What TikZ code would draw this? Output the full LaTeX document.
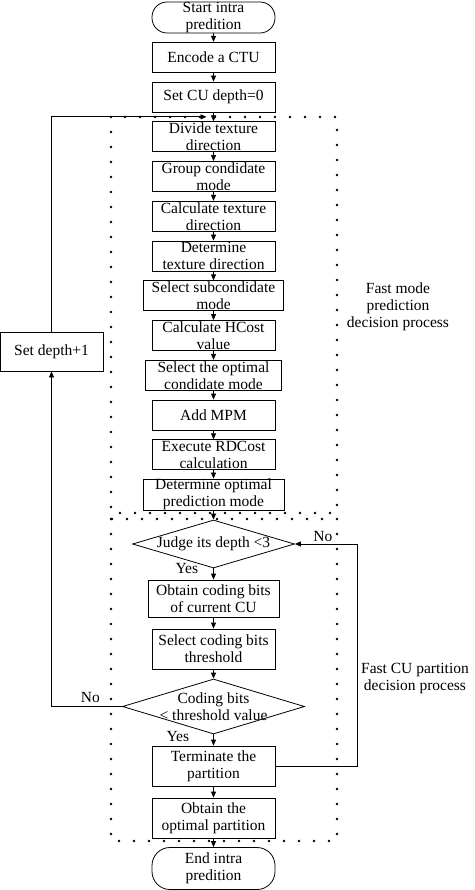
\documentclass[tikz,border=0pt]{standalone}
\usepackage{fontspec}
\setmainfont{Liberation Serif}
\usetikzlibrary{shapes.geometric, arrows.meta, calc}
\tikzstyle{beginend} = [rectangle, rounded corners=15pt, minimum width=123pt, minimum height=31pt, align=center, inner sep=0pt, draw=black]
\tikzstyle{process} = [rectangle, minimum width=123pt, minimum height=30pt, align=center, inner sep=0pt, draw=black]
\tikzstyle{decision} = [diamond, inner sep=0pt, draw=black]
\tikzstyle{arrow} = [->, >={Triangle[length=6pt,width=5pt]}]
\tikzstyle{dotbox} = [line width=2.7pt, line cap=round, dash pattern=on 0pt off 15pt]
\tikzstyle{remark} = [align=center]

\begin{document}
\begin{tikzpicture}[x=1pt, y=-1pt, node distance=39.75pt, line width=0.8pt, font=\fontsize{15.5}{17}\selectfont]
	\useasboundingbox (0,0) rectangle (474,890);
	% fast mode prediction part
	\node (start) [beginend] at (213.5,17.5) {Start intra\\predition};
	\node (encode) [process, below of=start] {Encode a CTU};
	\node (setcu) [process, below of=encode] {Set CU depth=0};
	\node (divide) [process, below of=setcu] {Divide texture\\direction};
	\node (group) [process, below of=divide] {Group condidate\\mode};
	\node (calctex) [process, below of=group] {Calculate texture\\direction};
	\node (dettex) [process, below of=calctex] {Determine\\texture direction};
	\node (selsub) [process, below of=dettex, minimum width=140pt] {Select subcondidate\\mode};
	\node (hcost) [process, below of=selsub] {Calculate HCost\\value};
	\node (selopt) [process, below of=hcost, minimum width=136pt] {Select the optimal\\condidate mode};
	\node (mpm) [process, below of=selopt] {Add MPM};
	\node (rdcost) [process, below of=mpm] {Execute RDCost\\calculation};
	\node (detopt) [process, below of=rdcost, minimum width=141pt] {Determine optimal\\prediction mode};
	% fast CU partition part
	\node (judge) [decision, below of=detopt, node distance=49.5pt, minimum width=162pt, minimum height=48pt, label=center:{Judge its depth <3}] {};
	\node (obits) [process, below of=judge, node distance=54.5pt, minimum width=131pt, minimum height=37pt] {Obtain coding bits\\of current CU};
	\node (sbits) [process, below of=obits, node distance=50.5pt, minimum height=40pt] {Select coding bits\\threshold};
	\node (bits) [decision, below of=sbits, node distance=57.5pt, minimum width=182pt, minimum height=55pt, label={[align=center]center:Coding bits\\< threshold value}] {};
	\node (term) [process, below of=bits, node distance=59.5pt, minimum height=40pt] {Terminate the\\partition};
	\node (opart) [process, below of=term, node distance=52pt, minimum height=40pt] {Obtain the\\optimal partition};
	\node (end) [beginend, below of=opart, node distance=50.5pt, minimum height=42pt, rounded corners=18pt] {End intra\\predition};
	\node (setdepth) [process, minimum width=103pt, minimum height=39pt] at (51.5,351.5) {Set depth+1};
	\node (fastmode) [remark] at (398,307) {Fast mode\\prediction\\decision process};
	\node (fastcu) [remark] at (415,679) {Fast CU partition\\decision process};
	\coordinate (join) at ($(setcu.south)!0.5!(divide.north)$);

	\draw [dotbox] (111,117) rectangle (337,513);
	\draw [dotbox] (111,519) rectangle (337,841);

	\draw [arrow] (start) -- (encode);
	\draw [arrow] (encode) -- (setcu);
	\draw [arrow] (setcu) -- (divide);
	\draw [arrow] (divide) -- (group);
	\draw [arrow] (group) -- (calctex);
	\draw [arrow] (calctex) -- (dettex);
	\draw [arrow] (dettex) -- (selsub);
	\draw [arrow] (selsub) -- (hcost);
	\draw [arrow] (hcost) -- (selopt);
	\draw [arrow] (selopt) -- (mpm);
	\draw [arrow] (mpm) -- (rdcost);
	\draw [arrow] (rdcost) -- (detopt);
	\draw [arrow] (detopt) -- (judge);
	\draw [arrow] (judge) -- node[pos=0, anchor=north east, inner sep=0pt, xshift=-15pt, yshift=5pt] {Yes} (obits);
	\draw [arrow] (obits) -- (sbits);
	\draw [arrow] (sbits) -- (bits);
	\draw [arrow] (bits) -- node[pos=0, anchor=north east, inner sep=0pt, xshift=-24pt, yshift=3pt] {Yes} (term);
	\draw [arrow] (term) -- (opart);
	\draw [arrow] (opart) -- (end);
	\draw [arrow] (term.east) -| ([xshift=62pt]judge.east) -- node[above, pos=0.55, inner sep=2pt] {No} (judge.east);
	\draw [arrow] (bits.west) -- node[above, pos=0.45, inner sep=3pt] {No} (bits.west -| setdepth.south) -- (setdepth.south);
	\draw [arrow, shorten >=7pt] (setdepth.north) |- (join);
\end{tikzpicture}
\end{document}
